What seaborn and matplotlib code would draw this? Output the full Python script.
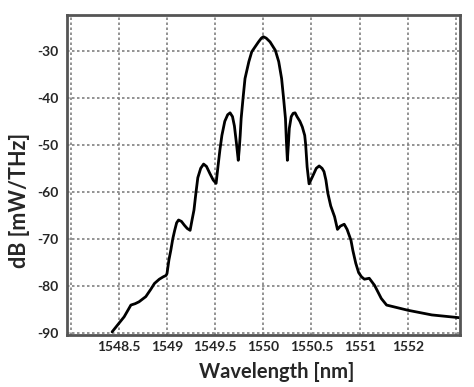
import pandas as pd
import numpy as np

import matplotlib
matplotlib.use("Agg")
import matplotlib.pyplot as plt
import seaborn as sns

# spectrum (wavelength in nm, power in dB)
wavelength = [1548.43, 1548.50, 1548.555, 1548.60, 1548.625, 1548.67, 1548.71, 1548.78,
              1548.83, 1548.87, 1548.92, 1548.96, 1548.99, 1549.00, 1549.02, 1549.04,
              1549.06, 1549.08, 1549.10, 1549.12, 1549.15, 1549.18, 1549.21, 1549.24,
              1549.26, 1549.28, 1549.30, 1549.32, 1549.35, 1549.38, 1549.41, 1549.445,
              1549.48, 1549.51, 1549.53, 1549.55, 1549.57, 1549.60, 1549.63, 1549.655,
              1549.68, 1549.70, 1549.72, 1549.74, 1549.75, 1549.76, 1549.77, 1549.79,
              1549.81, 1549.85, 1549.88, 1549.95, 1549.98, 1550.00, 1550.03, 1550.07,
              1550.125, 1550.16, 1550.19, 1550.21, 1550.23, 1550.24, 1550.25, 1550.26,
              1550.27, 1550.29, 1550.31, 1550.33, 1550.35, 1550.38, 1550.405, 1550.43,
              1550.44, 1550.455, 1550.475, 1550.51, 1550.55, 1550.58, 1550.61, 1550.63,
              1550.65, 1550.67, 1550.70, 1550.74, 1550.77, 1550.80, 1550.84, 1550.87,
              1550.91, 1550.93, 1550.96, 1550.99, 1551.02, 1551.05, 1551.10, 1551.155,
              1551.19, 1551.225, 1551.28, 1551.50, 1551.75, 1552.04]
power_db = [-89.8, -88.0, -86.6, -85.0, -84.1, -83.8, -83.4, -82.3,
            -80.8, -79.5, -78.6, -78.1, -77.8, -77.4, -74.5, -72.4,
            -70.0, -68.2, -66.6, -66.0, -66.3, -67.1, -67.8, -68.2,
            -66.0, -63.9, -60.3, -57.0, -55.0, -54.1, -54.6, -56.1,
            -57.5, -58.2, -54.5, -51.0, -48.0, -45.0, -43.6, -43.2,
            -44.0, -46.0, -49.5, -53.3, -51.0, -48.0, -44.4, -40.0,
            -35.9, -32.3, -30.2, -28.1, -27.3, -27.0, -27.3, -28.1,
            -29.9, -32.3, -35.9, -40.0, -44.4, -49.4, -53.3, -50.0,
            -46.5, -44.0, -43.3, -43.2, -44.0, -45.0, -46.2, -48.0,
            -50.0, -54.7, -58.3, -56.8, -55.0, -54.5, -55.0, -55.7,
            -57.5, -60.3, -63.0, -65.3, -68.0, -67.3, -66.9, -68.0,
            -70.3, -72.5, -75.2, -77.2, -78.1, -78.6, -78.4, -79.9,
            -81.3, -82.7, -84.1, -85.2, -86.2, -86.8]

x_ticks = [1548.0, 1548.5, 1549.0, 1549.5, 1550.0, 1550.5, 1551.0, 1551.5, 1552.0]
x_labels = ['', '1548.5', '1549', '1549.5', '1550', '1550.5', '1551', '1552', '']
y_ticks = [-30, -40, -50, -60, -70, -80, -90]

df = pd.DataFrame({'wavelength': wavelength, 'power': power_db})

sns.set_style('white')
plt.rcParams['font.family'] = ['Lato', 'DejaVu Sans']

fig = plt.figure(figsize=(4.74, 3.87), dpi=100)
ax = fig.add_axes([0.141, 0.134, 0.829, 0.827])

sns.lineplot(data=df, x='wavelength', y='power', color='black', linewidth=2, ax=ax)

ax.set_xlim(1547.96, 1552.04)
ax.set_ylim(-90.5, -22.4)
ax.set_xticks(x_ticks)
ax.set_xticklabels(x_labels)
ax.set_yticks(y_ticks)
ax.set_yticklabels([str(v) for v in y_ticks])

ax.grid(True, color='#808080', linestyle=(0, (1.5, 1.5)), linewidth=1.2)
ax.set_axisbelow(True)
for sp in ax.spines.values():
    sp.set_color('#555555')
    sp.set_linewidth(2)

ax.tick_params(axis='x', length=0, pad=4, labelsize=10)
ax.tick_params(axis='y', length=0, pad=6, labelsize=10)
for lab in ax.get_xticklabels() + ax.get_yticklabels():
    lab.set_fontweight('bold')

ax.set_xlabel('Wavelength [nm]', fontsize=14.5, fontweight='bold')
ax.set_ylabel('dB [mW/THz]', fontsize=15.5, fontweight='bold')
ax.xaxis.set_label_coords(0.534, -0.085)
ax.yaxis.set_label_coords(-0.095, 0.42)

fig.savefig('out.png', dpi=100)
